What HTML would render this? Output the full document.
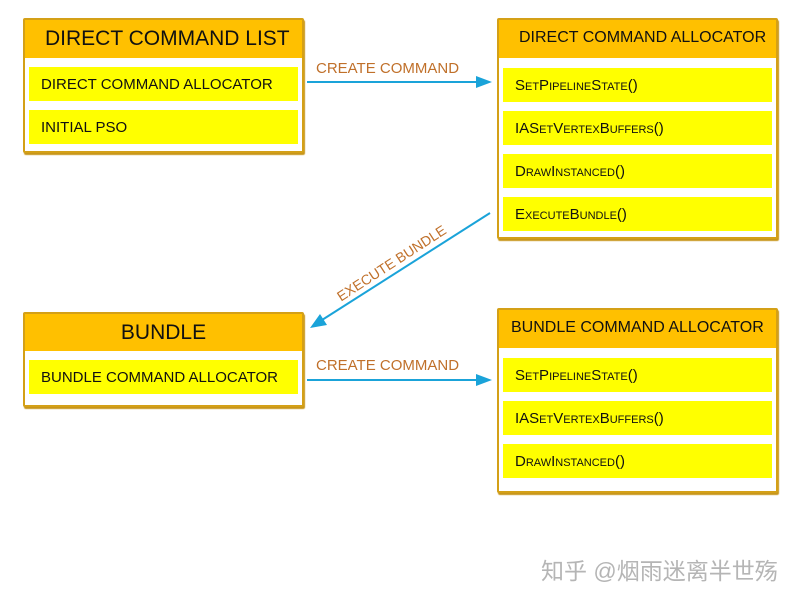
<!DOCTYPE html>
<html><head><meta charset="utf-8"><style>
body{margin:0;width:800px;height:600px;background:#fff;position:relative;overflow:hidden;font-family:"Liberation Sans","Noto Sans CJK SC",sans-serif;}
.box{position:absolute;border:2px solid #d4a017;background:#fff;box-sizing:border-box;border-radius:2px;box-shadow:1px 2px 1px #c8961a;}
.hd{position:absolute;left:0;right:0;top:0;background:#ffc000;color:#111;}
.row{position:absolute;background:#ffff00;color:#111;font-size:15px;box-sizing:border-box;padding-left:12px;display:flex;align-items:center;}
.sc{font-variant:small-caps;}
.lbl{position:absolute;color:#c0702a;font-size:15px;}
</style></head><body>
<div class="box" style="left:23px;top:18px;width:281px;height:135px;">
 <div class="hd" style="height:38px;font-size:21px;line-height:38px;padding-left:20px;">DIRECT COMMAND LIST</div>
 <div class="row" style="left:4px;right:4px;top:47px;height:34px;">DIRECT COMMAND ALLOCATOR</div>
 <div class="row" style="left:4px;right:4px;top:90px;height:34px;">INITIAL PSO</div>
</div>
<div class="box" style="left:497px;top:18px;width:281px;height:221px;">
 <div class="hd" style="height:38px;font-size:16px;line-height:36px;padding-left:20px;">DIRECT COMMAND ALLOCATOR</div>
 <div class="row sc" style="left:4px;right:4px;top:48px;height:34px;">SetPipelineState()</div>
 <div class="row sc" style="left:4px;right:4px;top:91px;height:34px;">IASetVertexBuffers()</div>
 <div class="row sc" style="left:4px;right:4px;top:134px;height:34px;">DrawInstanced()</div>
 <div class="row sc" style="left:4px;right:4px;top:177px;height:34px;">ExecuteBundle()</div>
</div>
<div class="box" style="left:23px;top:312px;width:281px;height:95px;">
 <div class="hd" style="height:37px;font-size:21px;line-height:37px;text-align:center;">BUNDLE</div>
 <div class="row" style="left:4px;right:4px;top:46px;height:34px;">BUNDLE COMMAND ALLOCATOR</div>
</div>
<div class="box" style="left:497px;top:308px;width:281px;height:185px;">
 <div class="hd" style="height:38px;font-size:16px;line-height:36px;padding-left:12px;">BUNDLE COMMAND ALLOCATOR</div>
 <div class="row sc" style="left:4px;right:4px;top:48px;height:34px;">SetPipelineState()</div>
 <div class="row sc" style="left:4px;right:4px;top:91px;height:34px;">IASetVertexBuffers()</div>
 <div class="row sc" style="left:4px;right:4px;top:134px;height:34px;">DrawInstanced()</div>
</div>
<svg style="position:absolute;left:0;top:0" width="800" height="600">
 <g stroke="#1aa3d9" stroke-width="2" fill="#1aa3d9">
  <line x1="307" y1="82" x2="478" y2="82"/><polygon points="492,82 476,76 476,88" stroke="none"/>
  <line x1="307" y1="380" x2="478" y2="380"/><polygon points="492,380 476,374 476,386" stroke="none"/>
  <line x1="490" y1="213" x2="322" y2="320"/><polygon points="310,328 320,314 327,325" stroke="none"/>
 </g>
</svg>
<div class="lbl" style="left:316px;top:60px;">CREATE COMMAND</div>
<div class="lbl" style="left:316px;top:357px;">CREATE COMMAND</div>
<div class="lbl" style="left:328px;top:255px;font-size:14px;transform:rotate(-33deg);transform-origin:center;white-space:nowrap;">EXECUTE BUNDLE</div>
<div style="position:absolute;left:541px;top:552px;font-size:23px;color:#b5b5b5;font-family:'Liberation Sans','Noto Sans CJK SC',sans-serif;">知乎 @烟雨迷离半世殇</div>
</body></html>
